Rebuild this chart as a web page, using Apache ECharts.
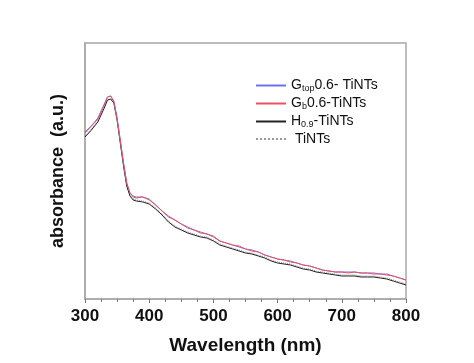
<!DOCTYPE html>
<html>
<head>
<meta charset="utf-8">
<script src="https://cdn.jsdelivr.net/npm/echarts@6/dist/echarts.min.js"></script>
<style>html,body{margin:0;padding:0;background:#fff;}#c{width:474px;height:363px;}</style>
</head>
<body>
<div id="c"></div>
<script>
var wavelengths = [300,310,320,330,335,340,345,350,355,360,365,370,375,380,390,400,410,420,430,440,450,460,470,480,490,500,510,520,530,540,550,560,570,580,590,600,610,620,630,640,650,660,670,680,690,700,710,720,730,740,750,760,770,780,790,800];
var seriesNames = ['Gtop0.6-TiNTs','Gb0.6-TiNTs','H0.9-TiNTs','TiNTs'];
var gTop = [1.67,1.73,1.81,1.95,2.02,2.03,1.98,1.81,1.59,1.36,1.16,1.06,1.03,1.02,1.02,1.00,0.94,0.88,0.83,0.79,0.75,0.71,0.69,0.67,0.65,0.63,0.58,0.56,0.54,0.52,0.50,0.49,0.47,0.44,0.42,0.40,0.39,0.38,0.36,0.34,0.33,0.31,0.29,0.28,0.27,0.27,0.27,0.27,0.26,0.26,0.26,0.25,0.25,0.23,0.21,0.19];
var gB   = [1.66,1.73,1.80,1.94,2.02,2.03,1.97,1.80,1.58,1.36,1.16,1.06,1.02,1.01,1.02,0.99,0.94,0.88,0.82,0.79,0.75,0.72,0.69,0.66,0.65,0.62,0.58,0.56,0.54,0.53,0.50,0.48,0.47,0.44,0.42,0.40,0.39,0.37,0.36,0.34,0.33,0.31,0.29,0.28,0.27,0.27,0.26,0.27,0.26,0.26,0.25,0.25,0.24,0.23,0.21,0.19];
var h09  = [1.62,1.69,1.77,1.91,1.99,2.00,1.96,1.79,1.56,1.33,1.13,1.03,0.99,0.98,0.97,0.95,0.90,0.84,0.77,0.72,0.69,0.66,0.64,0.62,0.61,0.58,0.54,0.52,0.50,0.48,0.46,0.45,0.43,0.41,0.38,0.36,0.35,0.34,0.32,0.30,0.29,0.27,0.26,0.25,0.24,0.23,0.23,0.23,0.22,0.22,0.22,0.21,0.20,0.18,0.16,0.14];
var tiNTs= [1.63,1.70,1.78,1.92,1.99,2.00,1.96,1.79,1.57,1.34,1.14,1.04,1.00,0.99,0.98,0.96,0.91,0.85,0.78,0.73,0.70,0.67,0.65,0.63,0.62,0.59,0.55,0.53,0.51,0.49,0.47,0.46,0.44,0.42,0.39,0.37,0.36,0.35,0.33,0.31,0.30,0.28,0.27,0.26,0.25,0.24,0.24,0.24,0.23,0.23,0.23,0.22,0.21,0.19,0.17,0.15];
var xTicks = [300,400,500,600,700,800];

function pairs(arr){ return wavelengths.map(function(w,i){ return [w, arr[i]]; }); }

var chart = echarts.init(document.getElementById('c'), null, {renderer:'canvas'});
var legendFmt = {
  'Gtop0.6-TiNTs': '{n|G}{s|top}{n|0.6- TiNTs}',
  'Gb0.6-TiNTs': '{n|G}{s|b}{n|0.6-TiNTs}',
  'H0.9-TiNTs': '{n|H}{s|0.9}{n|-TiNTs}',
  'TiNTs': '{n| TiNTs}'
};
var FF = 'Liberation Sans, Arial, sans-serif';
chart.setOption({
  animation:false,
  backgroundColor:'#fff',
  grid:{left:85,right:68,top:43,bottom:64,show:true,borderColor:'#a8a8a8',borderWidth:1.5,containLabel:false},
  legend:{
    orient:'vertical', left:250, top:73, itemGap:3, itemWidth:30, itemHeight:10,
    data:seriesNames,
    itemStyle:{opacity:0},
    formatter:function(n){ return legendFmt[n]; },
    textStyle:{
      color:'#111', fontFamily:FF,
      rich:{
        n:{fontSize:14, fontFamily:FF, color:'#111', lineHeight:16},
        s:{fontSize:9, fontFamily:FF, color:'#111', lineHeight:10, padding:[6,0,0,0]}
      }
    }
  },
  xAxis:{
    type:'value', min:300, max:800, interval:100,
    name:'Wavelength (nm)', nameLocation:'middle', nameGap:37,
    nameTextStyle:{fontSize:19, fontWeight:'bold', color:'#111', fontFamily:FF},
    axisLine:{show:true, lineStyle:{color:'#a8a8a8', width:1.5}},
    axisTick:{show:true, inside:false, length:4, lineStyle:{color:'#777'}},
    minorTick:{show:true, splitNumber:4, length:3, lineStyle:{color:'#777'}},
    splitLine:{show:false},
    axisLabel:{fontSize:17, fontWeight:'bold', color:'#111', margin:9, fontFamily:FF,
      formatter:function(v){ return xTicks.indexOf(v)>=0 ? String(v) : ''; }}
  },
  yAxis:{
    type:'value', min:0, max:2.56,
    name:'absorbance  (a.u.)', nameLocation:'middle', nameGap:18, nameRotate:90,
    nameTextStyle:{fontSize:18, fontWeight:'bold', color:'#111', fontFamily:FF},
    axisLine:{show:true, lineStyle:{color:'#a8a8a8', width:1.5}},
    axisTick:{show:false}, axisLabel:{show:false}, splitLine:{show:false}
  },
  series:[
    {name:seriesNames[0], type:'line', symbol:'none', data:pairs(gTop), lineStyle:{color:'#7070ee', width:1}, itemStyle:{color:'#7070ee'}, z:3},
    {name:seriesNames[1], type:'line', symbol:'none', data:pairs(gB), lineStyle:{color:'#ee5060', width:1}, itemStyle:{color:'#ee5060'}, z:4},
    {name:seriesNames[2], type:'line', symbol:'none', data:pairs(h09), lineStyle:{color:'#222', width:1}, itemStyle:{color:'#222'}, z:2},
    {name:seriesNames[3], type:'line', symbol:'none', data:pairs(tiNTs), lineStyle:{color:'#999', width:1, type:'dotted'}, itemStyle:{color:'#999'}, z:1}
  ]
});
</script>
</body>
</html>
